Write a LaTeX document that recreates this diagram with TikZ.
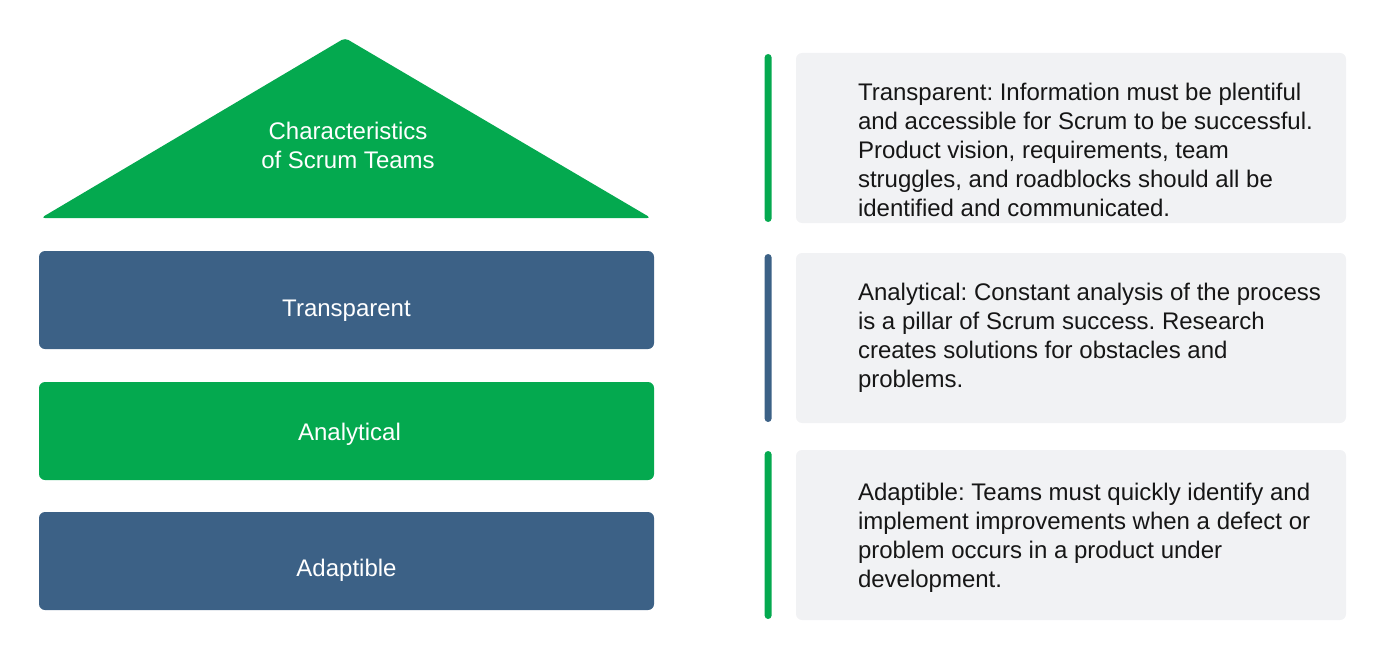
\documentclass[tikz,border=0pt]{standalone}
\usepackage{fontspec}
\setmainfont{Liberation Sans}
\frenchspacing
\definecolor{scrumgreen}{RGB}{4,169,79}
\definecolor{scrumblue}{RGB}{60,97,134}
\definecolor{lightgray}{RGB}{241,242,244}
\definecolor{nearblack}{RGB}{22,22,22}
\colorlet{ink}{nearblack}
\colorlet{panelgray}{lightgray}
\usetikzlibrary{positioning}

\begin{document}
\begin{tikzpicture}[x=1pt, y=-1pt,
    pillar/.style={rounded corners=6pt, minimum width=615pt,
      minimum height=98pt, inner sep=0pt},
    pillartext/.style={text=white, font=\fontsize{24}{29}\selectfont, align=center},
    panel/.style={fill=panelgray, rounded corners=6pt, minimum width=550pt,
      minimum height=170pt, inner sep=0pt},
    stripe/.style={rounded corners=3.5pt, minimum width=7pt,
      minimum height=168pt, inner sep=0pt},
    paneltext/.style={text=ink, font=\fontsize{24}{29}\selectfont, align=left,
      anchor=north west, inner sep=0pt},
    node distance=24pt,
  ]
    \useasboundingbox (0,0) rectangle (1387,661);
    % roof
    \fill[scrumgreen, rounded corners=4pt] (41,218) -- (345,38) -- (651,218) -- cycle;
    \node[pillartext] (roof) at (348,145) {Characteristics\\of Scrum Teams};
    % pillars
    \node[pillar, fill=scrumblue] (b1) at (346.5,300) {};
    \node[pillar, fill=scrumgreen] (b2) at (346.5,431) {};
    \node[pillar, fill=scrumblue] (b3) at (346.5,561) {};
    \node[pillartext] (t1) at ([yshift=-11pt]b1.center) {Transparent};
    \node[pillartext] (t2) at ([xshift=3pt, yshift=-3pt]b2.center) {Analytical};
    \node[pillartext] (t3) at ([yshift=-9pt]b3.center) {Adaptible};
    % panels
    \node[panel] (p1) at (1071,138) {};
    \node[panel] (p2) at (1071,338) {};
    \node[panel] (p3) at (1071,535) {};
    \node[stripe, fill=scrumgreen, left=of p1] (s1) {};
    \node[stripe, fill=scrumblue, left=of p2] (s2) {};
    \node[stripe, fill=scrumgreen, left=of p3] (s3) {};
    \node[paneltext] (d1) at ([xshift=62pt, yshift=-30pt]p1.north west)
      {Transparent: Information must be plentiful\\and accessible for Scrum to be successful.\\Product vision, requirements, team\\struggles, and roadblocks should all be\\identified and communicated.};
    \node[paneltext] (d2) at ([xshift=62pt, yshift=-30pt]p2.north west)
      {Analytical: Constant analysis of the process\\is a pillar of Scrum success. Research\\creates solutions for obstacles and\\problems.};
    \node[paneltext] (d3) at ([xshift=62pt, yshift=-33pt]p3.north west)
      {Adaptible: Teams must quickly identify and\\implement improvements when a defect or\\problem occurs in a product under\\development.};
  \end{tikzpicture}
\end{document}
